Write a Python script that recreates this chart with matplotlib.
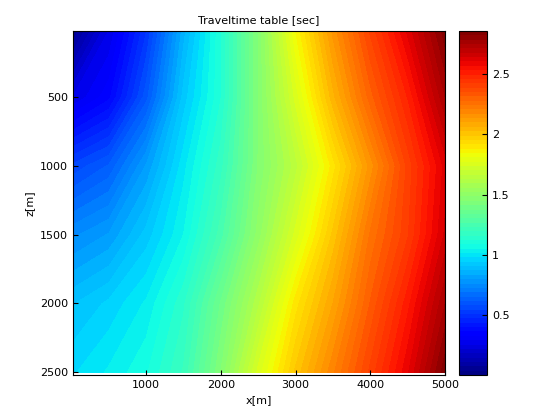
import numpy as np
import matplotlib
matplotlib.use("Agg")
import matplotlib.pyplot as plt

x_m = [0, 500, 1000, 1500, 2000, 2500, 3000, 3500, 4000, 4500, 5000]
z_m = [0, 500, 1000, 1500, 2000, 2500]
t_z0 = [0.02, 0.25, 0.50, 0.85, 1.12, 1.45, 1.85, 2.15, 2.40, 2.62, 2.85]
t_z500 = [0.25, 0.35, 0.60, 0.92, 1.12, 1.45, 1.75, 2.05, 2.30, 2.50, 2.75]
t_z1000 = [0.55, 0.62, 0.80, 1.00, 1.18, 1.45, 1.65, 1.90, 2.15, 2.40, 2.62]
t_z1500 = [0.75, 0.80, 0.92, 1.05, 1.25, 1.50, 1.75, 2.00, 2.25, 2.42, 2.65]
t_z2000 = [0.90, 0.95, 1.02, 1.15, 1.38, 1.62, 1.90, 2.10, 2.32, 2.52, 2.75]
t_z2500 = [0.97, 1.02, 1.08, 1.20, 1.45, 1.75, 2.00, 2.20, 2.40, 2.60, 2.85]
T = np.array([t_z0, t_z500, t_z1000, t_z1500, t_z2000, t_z2500])

fig = plt.figure(figsize=(5.6, 4.2), dpi=100)
ax = fig.add_axes([73/560, 45/420, 372/560, 344/420])
cax = fig.add_axes([459/560, 45/420, 28/560, 344/420])
cs = ax.contourf(x_m, z_m, T, levels=np.linspace(0.0, 2.86, 80), cmap="jet")
ax.set_xlim(20, 5000)
ax.set_ylim(2520, 20)
ax.set_xticks([1000, 2000, 3000, 4000, 5000])
ax.set_yticks([500, 1000, 1500, 2000, 2500])
ax.set_xlabel("x[m]", fontsize=8)
ax.set_ylabel("z[m]", fontsize=8)
ax.set_title("Traveltime table [sec]", fontsize=8)
ax.tick_params(labelsize=8, direction="in")
cb = fig.colorbar(cs, cax=cax, ticks=[0.5, 1, 1.5, 2, 2.5])
cb.ax.tick_params(labelsize=8, direction="in")
cb.ax.set_yticklabels(["0.5", "1", "1.5", "2", "2.5"])
fig.savefig("out.png", dpi=100)
